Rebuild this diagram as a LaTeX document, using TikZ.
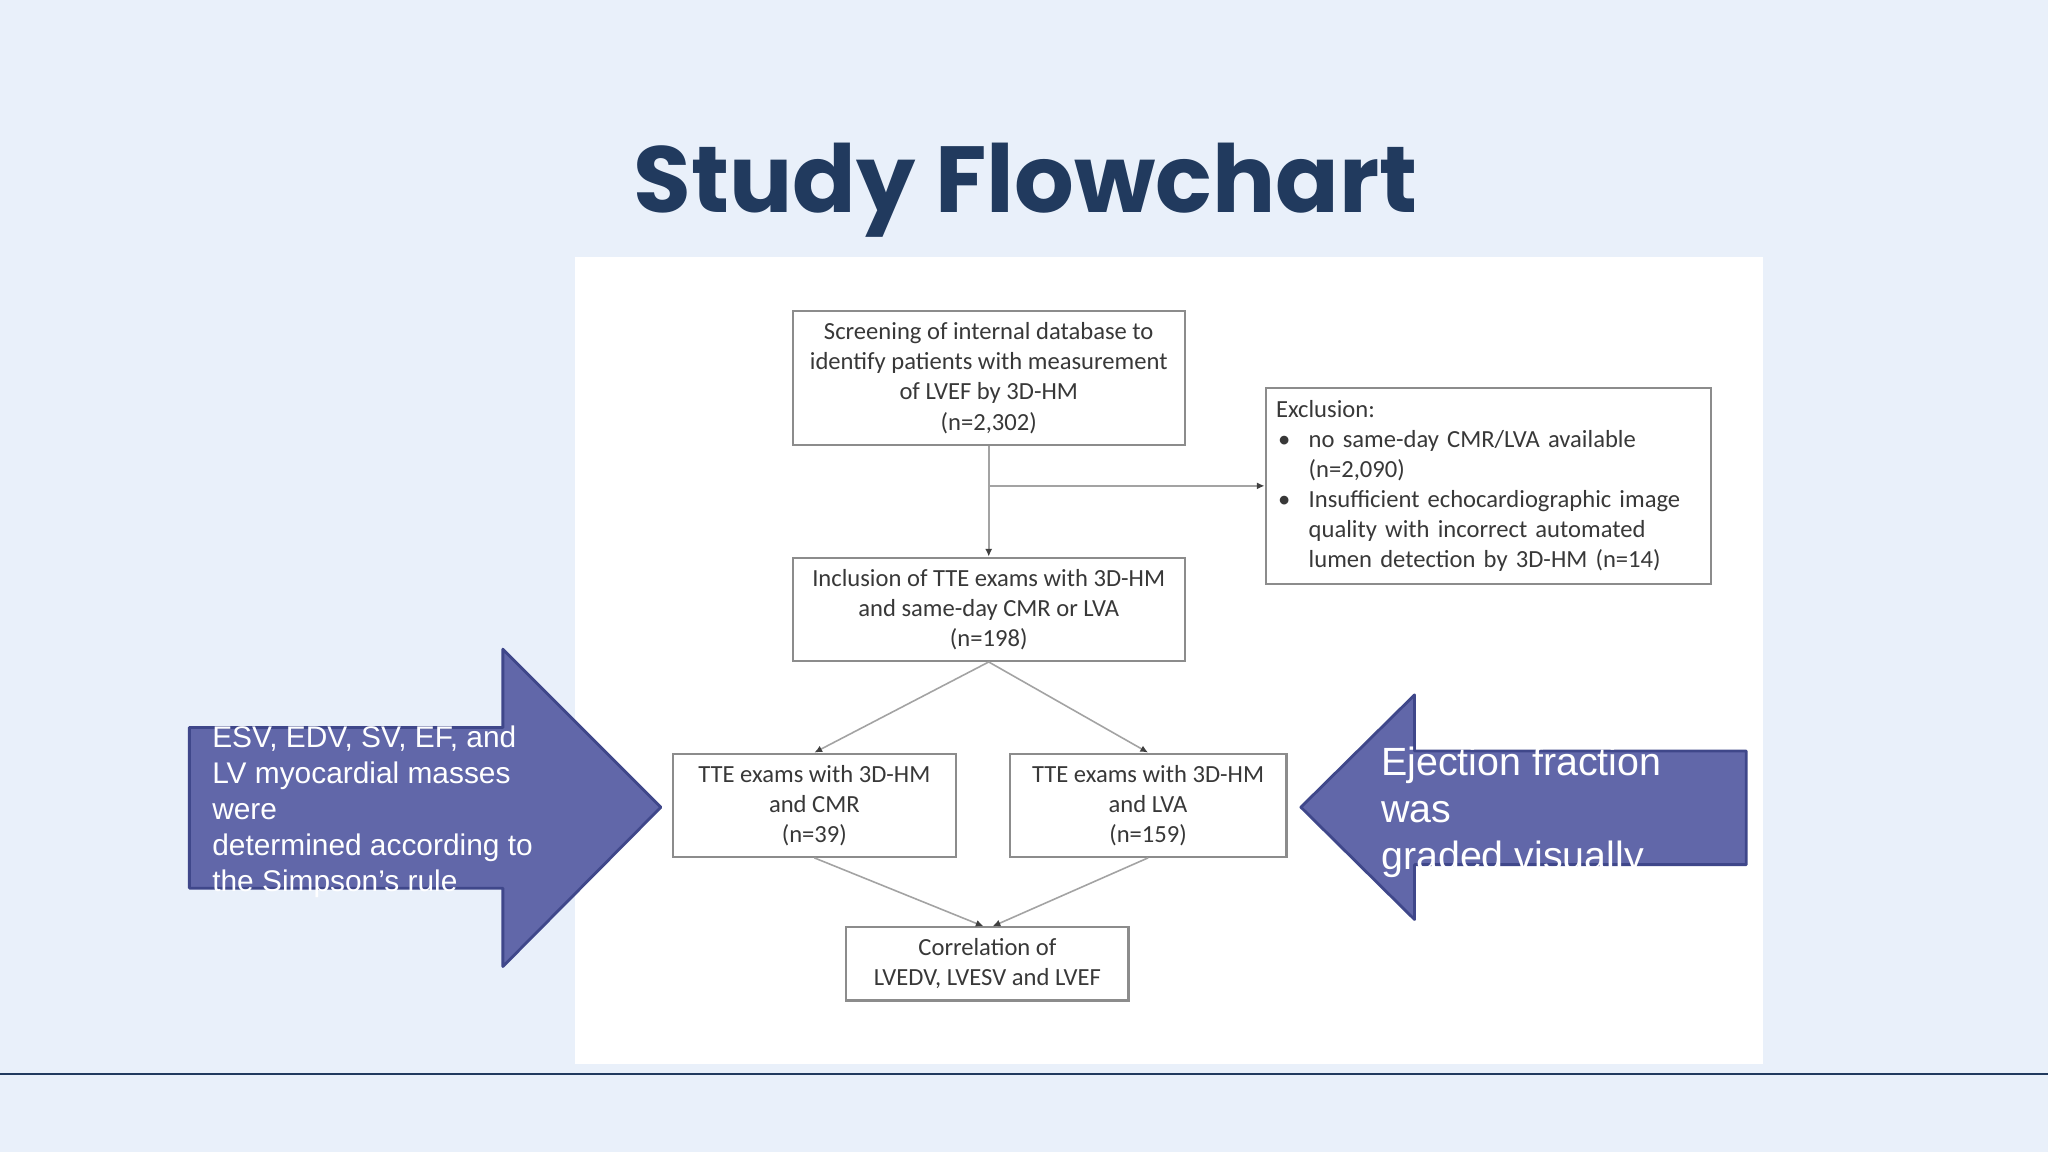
\documentclass[tikz,border=0pt]{standalone}
\usepackage{fontspec}
\usepackage{xcolor}
\usepackage{tikz}
\usetikzlibrary{arrows.meta, positioning, calc}
\setmainfont{Liberation Sans}
\newfontfamily\boxfont{Carlito}
\newfontfamily\titlefont{Poppins}
\definecolor{slidebg}{HTML}{E9F0FA}
\definecolor{titleblue}{HTML}{213A5E}
\definecolor{calloutfill}{HTML}{6167A9}
\definecolor{calloutdraw}{HTML}{3F478A}
\definecolor{boxline}{HTML}{8C8C8C}
\definecolor{boxtext}{HTML}{383838}
\definecolor{linkgray}{HTML}{A3A3A3}
\tikzstyle{stage} = [rectangle, draw=boxline, line width=0.6pt, fill=white, text=boxtext, align=center, inner sep=0pt, font=\boxfont\fontsize{7}{8.55}\selectfont]
\tikzstyle{arrow} = [draw=linkgray, line width=0.45pt, -{Latex[length=2.2pt,width=2pt,color=black!75]}]
\tikzstyle{callout} = [fill=calloutfill, draw=calloutdraw, line width=0.8pt, line join=round]
\tikzstyle{note} = [text=white, align=left, inner sep=0pt, anchor=north west]

\begin{document}
\begin{tikzpicture}[x=0.013061cm, y=-0.013061cm]
    \useasboundingbox (0,0) rectangle (1568,882);
% Slide
    \fill[slidebg] (0,0) rectangle (1568,882);
    \fill[white] (440,197) rectangle (1350,815);
    \draw[titleblue, line width=0.5pt] (0,822) -- (1568,822);
    \node (title) [anchor=base, text=titleblue, font=\titlefont\bfseries\fontsize{26.7}{32}\selectfont] at (785,163) {Study Flowchart};

    % Flowchart boxes
    \node (screen) [stage, minimum width=3.92cm, minimum height=1.345cm] at (757,289.5) {Screening of internal database to\\identify patients with measurement\\of LVEF by 3D-HM\\(n=2,302)};
    \node (exclusion) [stage, align=left, text width=4.245cm, inner xsep=0.1045cm, minimum height=1.959cm] at (1139.5,372) {Exclusion:\\
        \hspace*{0.02cm}\makebox[0.3065cm][l]{\textbullet}no same-day CMR/LVA available\\
        \hspace*{0.3265cm}(n=2,090)\\
        \hspace*{0.02cm}\makebox[0.3065cm][l]{\textbullet}Insufficient echocardiographic image\\
        \hspace*{0.3265cm}quality with incorrect automated\\
        \hspace*{0.3265cm}lumen detection by 3D-HM (n=14)};
    \node (inclusion) [stage, minimum width=3.92cm, minimum height=1.032cm] at (757,466.5) {Inclusion of TTE exams with 3D-HM\\and same-day CMR or LVA\\(n=198)};
    \node (cmr) [stage, minimum width=2.834cm, minimum height=1.032cm] at (623.5,616.5) {TTE exams with 3D-HM\\and CMR\\(n=39)};
    \node (lva) [stage, minimum width=2.769cm, minimum height=1.032cm] at (879,616.5) {TTE exams with 3D-HM\\and LVA\\(n=159)};
    \node (correlation) [stage, minimum width=2.821cm, minimum height=0.731cm] at (756,738) {Correlation of\\LVEDV, LVESV and LVEF};

    % Arrows
    \coordinate (split) at (screen.south |- exclusion.west);
    \draw [arrow] (screen) -- (inclusion);
    \draw [arrow] (split) -- (exclusion.west);
    \draw [arrow] (inclusion.south) -- (cmr.north);
    \draw [arrow] (inclusion.south) -- (lva.north);
    \draw [arrow] (cmr.south) -- ($(correlation.north)+(-3,0)$);
    \draw [arrow] (lva.south) -- ($(correlation.north)+(4,0)$);

    % Callouts
    \draw [callout] (145,557) -- (385,557) -- (385,497) -- (506,618) -- (385,740) -- (385,680) -- (145,680) -- cycle;
    \node (leftnote) [note, font=\fontsize{8.5}{10.2}\selectfont] at (162,555.5) {ESV, EDV, SV, EF, and\\LV myocardial masses\\were\\determined according to\\the Simpson’s rule};
    \draw [callout] (1337,575) -- (1083,575) -- (1083,532) -- (996,618) -- (1083,704) -- (1083,662) -- (1337,662) -- cycle;
    \node (rightnote) [note, font=\fontsize{11.2}{13.4}\selectfont] at (1057,571) {Ejection fraction\\was\\graded visually};
\end{tikzpicture}
\end{document}
